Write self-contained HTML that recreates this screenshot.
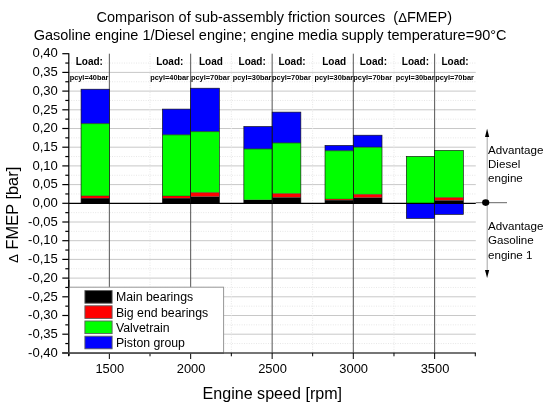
<!DOCTYPE html><html><head><meta charset="utf-8"><title>Comparison of sub-assembly friction sources</title>
<style>html,body{margin:0;padding:0;background:#fff}svg{display:block}text{font-family:"Liberation Sans",Arial,sans-serif;fill:#000}</style></head><body>
<svg width="550" height="410" viewBox="0 0 550 410">
<rect width="550" height="410" fill="#fff"/>
<g stroke="#c8c8c8" stroke-width="1" fill="none">
<line x1="68.8" x2="475.8" y1="334.20" y2="334.20"/>
<line x1="68.8" x2="475.8" y1="315.50" y2="315.50"/>
<line x1="68.8" x2="475.8" y1="296.80" y2="296.80"/>
<line x1="68.8" x2="475.8" y1="278.10" y2="278.10"/>
<line x1="68.8" x2="475.8" y1="259.40" y2="259.40"/>
<line x1="68.8" x2="475.8" y1="240.70" y2="240.70"/>
<line x1="68.8" x2="475.8" y1="222.00" y2="222.00"/>
<line x1="68.8" x2="475.8" y1="184.60" y2="184.60"/>
<line x1="68.8" x2="475.8" y1="165.90" y2="165.90"/>
<line x1="68.8" x2="475.8" y1="147.20" y2="147.20"/>
<line x1="68.8" x2="475.8" y1="128.50" y2="128.50"/>
<line x1="68.8" x2="475.8" y1="109.80" y2="109.80"/>
<line x1="68.8" x2="475.8" y1="91.10" y2="91.10"/>
<line x1="68.8" x2="475.8" y1="72.40" y2="72.40"/>
</g>
<g stroke="#e6e6e6" stroke-width="1" stroke-dasharray="1 1.4" fill="none">
<line x1="68.8" x2="475.8" y1="343.55" y2="343.55"/>
<line x1="68.8" x2="475.8" y1="324.85" y2="324.85"/>
<line x1="68.8" x2="475.8" y1="306.15" y2="306.15"/>
<line x1="68.8" x2="475.8" y1="287.45" y2="287.45"/>
<line x1="68.8" x2="475.8" y1="268.75" y2="268.75"/>
<line x1="68.8" x2="475.8" y1="250.05" y2="250.05"/>
<line x1="68.8" x2="475.8" y1="231.35" y2="231.35"/>
<line x1="68.8" x2="475.8" y1="212.65" y2="212.65"/>
<line x1="68.8" x2="475.8" y1="193.95" y2="193.95"/>
<line x1="68.8" x2="475.8" y1="175.25" y2="175.25"/>
<line x1="68.8" x2="475.8" y1="156.55" y2="156.55"/>
<line x1="68.8" x2="475.8" y1="137.85" y2="137.85"/>
<line x1="68.8" x2="475.8" y1="119.15" y2="119.15"/>
<line x1="68.8" x2="475.8" y1="100.45" y2="100.45"/>
<line x1="68.8" x2="475.8" y1="81.75" y2="81.75"/>
<line x1="68.8" x2="475.8" y1="63.05" y2="63.05"/>
<line x1="150.01" x2="150.01" y1="53.7" y2="352.9"/>
<line x1="231.33" x2="231.33" y1="53.7" y2="352.9"/>
<line x1="312.65" x2="312.65" y1="53.7" y2="352.9"/>
<line x1="393.97" x2="393.97" y1="53.7" y2="352.9"/>
</g>
<g stroke="#555" stroke-width="1">
<line x1="109.35" x2="109.35" y1="53.7" y2="352.9"/>
<line x1="190.67" x2="190.67" y1="53.7" y2="352.9"/>
<line x1="272.15" x2="272.15" y1="53.7" y2="352.9"/>
<line x1="353.31" x2="353.31" y1="53.7" y2="352.9"/>
<line x1="434.63" x2="434.63" y1="53.7" y2="352.9"/>
</g>
<g>
<rect x="81.05" y="89.20" width="28.3" height="34.40" fill="#0000ff"/>
<rect x="81.05" y="123.60" width="28.3" height="72.30" fill="#00ff00"/>
<rect x="81.05" y="195.90" width="28.3" height="2.30" fill="#ff0000"/>
<rect x="81.05" y="198.20" width="28.3" height="5.10" fill="#000000"/>
<rect x="162.37" y="109.10" width="28.3" height="25.70" fill="#0000ff"/>
<rect x="162.37" y="134.80" width="28.3" height="61.20" fill="#00ff00"/>
<rect x="162.37" y="196.00" width="28.3" height="2.20" fill="#ff0000"/>
<rect x="162.37" y="198.20" width="28.3" height="5.10" fill="#000000"/>
<rect x="190.67" y="88.20" width="28.7" height="43.40" fill="#0000ff"/>
<rect x="190.67" y="131.60" width="28.7" height="61.00" fill="#00ff00"/>
<rect x="190.67" y="192.60" width="28.7" height="4.00" fill="#ff0000"/>
<rect x="190.67" y="196.60" width="28.7" height="6.70" fill="#000000"/>
<rect x="243.85" y="126.50" width="28.3" height="22.40" fill="#0000ff"/>
<rect x="243.85" y="148.90" width="28.3" height="50.90" fill="#00ff00"/>
<rect x="243.85" y="199.80" width="28.3" height="0.00" fill="#ff0000"/>
<rect x="243.85" y="199.80" width="28.3" height="3.50" fill="#000000"/>
<rect x="272.15" y="112.10" width="28.7" height="30.80" fill="#0000ff"/>
<rect x="272.15" y="142.90" width="28.7" height="50.70" fill="#00ff00"/>
<rect x="272.15" y="193.60" width="28.7" height="3.80" fill="#ff0000"/>
<rect x="272.15" y="197.40" width="28.7" height="5.90" fill="#000000"/>
<rect x="325.01" y="145.40" width="28.3" height="5.30" fill="#0000ff"/>
<rect x="325.01" y="150.70" width="28.3" height="48.40" fill="#00ff00"/>
<rect x="325.01" y="199.10" width="28.3" height="1.10" fill="#ff0000"/>
<rect x="325.01" y="200.20" width="28.3" height="3.10" fill="#000000"/>
<rect x="353.31" y="135.20" width="28.7" height="12.00" fill="#0000ff"/>
<rect x="353.31" y="147.20" width="28.7" height="47.20" fill="#00ff00"/>
<rect x="353.31" y="194.40" width="28.7" height="3.20" fill="#ff0000"/>
<rect x="353.31" y="197.60" width="28.7" height="5.70" fill="#000000"/>
<rect x="406.33" y="203.30" width="28.3" height="15.10" fill="#0000ff"/>
<rect x="406.33" y="156.40" width="28.3" height="46.60" fill="#00ff00"/>
<rect x="406.33" y="203.00" width="28.3" height="0.00" fill="#ff0000"/>
<rect x="406.33" y="203.00" width="28.3" height="0.30" fill="#000000"/>
<rect x="434.63" y="203.30" width="28.7" height="11.10" fill="#0000ff"/>
<rect x="434.63" y="150.40" width="28.7" height="47.20" fill="#00ff00"/>
<rect x="434.63" y="197.60" width="28.7" height="2.80" fill="#ff0000"/>
<rect x="434.63" y="200.40" width="28.7" height="2.90" fill="#000000"/>
</g>
<g stroke="#111" stroke-width="0.65">
<line x1="81.05" x2="109.35" y1="123.60" y2="123.60" stroke-width="0.6"/>
<line x1="81.05" x2="109.35" y1="195.90" y2="195.90" stroke-width="0.35"/>
<rect x="81.05" y="89.20" width="28.3" height="114.10" fill="none"/>
<line x1="162.37" x2="190.67" y1="134.80" y2="134.80" stroke-width="0.6"/>
<line x1="162.37" x2="190.67" y1="196.00" y2="196.00" stroke-width="0.35"/>
<rect x="162.37" y="109.10" width="28.3" height="94.20" fill="none"/>
<line x1="190.67" x2="219.37" y1="131.60" y2="131.60" stroke-width="0.6"/>
<line x1="190.67" x2="219.37" y1="192.60" y2="192.60" stroke-width="0.35"/>
<rect x="190.67" y="88.20" width="28.7" height="115.10" fill="none"/>
<line x1="243.85" x2="272.15" y1="148.90" y2="148.90" stroke-width="0.6"/>
<rect x="243.85" y="126.50" width="28.3" height="76.80" fill="none"/>
<line x1="272.15" x2="300.85" y1="142.90" y2="142.90" stroke-width="0.6"/>
<line x1="272.15" x2="300.85" y1="193.60" y2="193.60" stroke-width="0.35"/>
<rect x="272.15" y="112.10" width="28.7" height="91.20" fill="none"/>
<line x1="325.01" x2="353.31" y1="150.70" y2="150.70" stroke-width="0.6"/>
<line x1="325.01" x2="353.31" y1="199.10" y2="199.10" stroke-width="0.35"/>
<rect x="325.01" y="145.40" width="28.3" height="57.90" fill="none"/>
<line x1="353.31" x2="382.01" y1="147.20" y2="147.20" stroke-width="0.6"/>
<line x1="353.31" x2="382.01" y1="194.40" y2="194.40" stroke-width="0.35"/>
<rect x="353.31" y="135.20" width="28.7" height="68.10" fill="none"/>
<rect x="406.33" y="156.40" width="28.3" height="62.00" fill="none"/>
<line x1="434.63" x2="463.33" y1="197.60" y2="197.60" stroke-width="0.35"/>
<rect x="434.63" y="150.40" width="28.7" height="64.00" fill="none"/>
</g>
<line x1="68.8" x2="475.8" y1="203.3" y2="203.3" stroke="#000" stroke-width="1.3"/>
<line x1="475.8" x2="507" y1="202.7" y2="202.7" stroke="#666" stroke-width="1"/>
<line x1="487.2" x2="487.2" y1="134" y2="272" stroke="#a6a6a6" stroke-width="1"/>
<polygon points="487.1,128.8 485.0,136.9 489.2,136.9" fill="#000"/>
<polygon points="487.1,278.0 485.0,270.0 489.2,270.0" fill="#000"/>
<ellipse cx="485.7" cy="202.6" rx="3.6" ry="3.3" fill="#000"/>
<g stroke="#000" stroke-width="1.2" fill="none">
<line x1="68.8" x2="68.8" y1="53.2" y2="355.8"/>
<line x1="62.4" x2="475.8" y1="352.9" y2="352.9" stroke="#484848" stroke-width="1.5"/>
<line x1="62.3" x2="68.8" y1="352.90" y2="352.90"/>
<line x1="62.3" x2="68.8" y1="334.20" y2="334.20"/>
<line x1="62.3" x2="68.8" y1="315.50" y2="315.50"/>
<line x1="62.3" x2="68.8" y1="296.80" y2="296.80"/>
<line x1="62.3" x2="68.8" y1="278.10" y2="278.10"/>
<line x1="62.3" x2="68.8" y1="259.40" y2="259.40"/>
<line x1="62.3" x2="68.8" y1="240.70" y2="240.70"/>
<line x1="62.3" x2="68.8" y1="222.00" y2="222.00"/>
<line x1="62.3" x2="68.8" y1="203.30" y2="203.30"/>
<line x1="62.3" x2="68.8" y1="184.60" y2="184.60"/>
<line x1="62.3" x2="68.8" y1="165.90" y2="165.90"/>
<line x1="62.3" x2="68.8" y1="147.20" y2="147.20"/>
<line x1="62.3" x2="68.8" y1="128.50" y2="128.50"/>
<line x1="62.3" x2="68.8" y1="109.80" y2="109.80"/>
<line x1="62.3" x2="68.8" y1="91.10" y2="91.10"/>
<line x1="62.3" x2="68.8" y1="72.40" y2="72.40"/>
<line x1="62.3" x2="68.8" y1="53.70" y2="53.70"/>
<line x1="65.3" x2="68.8" y1="343.55" y2="343.55"/>
<line x1="65.3" x2="68.8" y1="324.85" y2="324.85"/>
<line x1="65.3" x2="68.8" y1="306.15" y2="306.15"/>
<line x1="65.3" x2="68.8" y1="287.45" y2="287.45"/>
<line x1="65.3" x2="68.8" y1="268.75" y2="268.75"/>
<line x1="65.3" x2="68.8" y1="250.05" y2="250.05"/>
<line x1="65.3" x2="68.8" y1="231.35" y2="231.35"/>
<line x1="65.3" x2="68.8" y1="212.65" y2="212.65"/>
<line x1="65.3" x2="68.8" y1="193.95" y2="193.95"/>
<line x1="65.3" x2="68.8" y1="175.25" y2="175.25"/>
<line x1="65.3" x2="68.8" y1="156.55" y2="156.55"/>
<line x1="65.3" x2="68.8" y1="137.85" y2="137.85"/>
<line x1="65.3" x2="68.8" y1="119.15" y2="119.15"/>
<line x1="65.3" x2="68.8" y1="100.45" y2="100.45"/>
<line x1="65.3" x2="68.8" y1="81.75" y2="81.75"/>
<line x1="65.3" x2="68.8" y1="63.05" y2="63.05"/>
<line x1="109.35" x2="109.35" y1="352.9" y2="359.0" stroke-width="1"/>
<line x1="190.67" x2="190.67" y1="352.9" y2="359.0" stroke-width="1"/>
<line x1="272.15" x2="272.15" y1="352.9" y2="359.0" stroke-width="1"/>
<line x1="353.31" x2="353.31" y1="352.9" y2="359.0" stroke-width="1"/>
<line x1="434.63" x2="434.63" y1="352.9" y2="359.0" stroke-width="1"/>
<line x1="68.69" x2="68.69" y1="352.9" y2="356.29999999999995" stroke-width="1"/>
<line x1="150.01" x2="150.01" y1="352.9" y2="356.29999999999995" stroke-width="1"/>
<line x1="231.33" x2="231.33" y1="352.9" y2="356.29999999999995" stroke-width="1"/>
<line x1="312.65" x2="312.65" y1="352.9" y2="356.29999999999995" stroke-width="1"/>
<line x1="393.97" x2="393.97" y1="352.9" y2="356.29999999999995" stroke-width="1"/>
<line x1="475.29" x2="475.29" y1="352.9" y2="356.29999999999995" stroke-width="1"/>
</g>
<rect x="68.8" y="287.2" width="154.8" height="65.69999999999999" fill="#fff" stroke="#969696" stroke-width="1"/>
<line x1="68.8" x2="68.8" y1="280" y2="355.8" stroke="#000" stroke-width="1.2"/>
<line x1="62.4" x2="224" y1="352.9" y2="352.9" stroke="#484848" stroke-width="1.5"/>
<rect x="84.9" y="290.60" width="27.2" height="12.6" fill="#000000" stroke="#5c5c5c" stroke-width="0.9"/>
<text x="115.9" y="301.40" font-size="12.3">Main bearings</text>
<rect x="84.9" y="305.80" width="27.2" height="12.6" fill="#ff0000" stroke="#5c5c5c" stroke-width="0.9"/>
<text x="115.9" y="316.60" font-size="12.3">Big end bearings</text>
<rect x="84.9" y="321.00" width="27.2" height="12.6" fill="#00ff00" stroke="#5c5c5c" stroke-width="0.9"/>
<text x="115.9" y="331.80" font-size="12.3">Valvetrain</text>
<rect x="84.9" y="336.20" width="27.2" height="12.6" fill="#0000ff" stroke="#5c5c5c" stroke-width="0.9"/>
<text x="115.9" y="347.00" font-size="12.3">Piston group</text>
<text x="57.9" y="356.60" font-size="13.1" text-anchor="end">-0,40</text>
<text x="57.9" y="337.90" font-size="13.1" text-anchor="end">-0,35</text>
<text x="57.9" y="319.20" font-size="13.1" text-anchor="end">-0,30</text>
<text x="57.9" y="300.50" font-size="13.1" text-anchor="end">-0,25</text>
<text x="57.9" y="281.80" font-size="13.1" text-anchor="end">-0,20</text>
<text x="57.9" y="263.10" font-size="13.1" text-anchor="end">-0,15</text>
<text x="57.9" y="244.40" font-size="13.1" text-anchor="end">-0,10</text>
<text x="57.9" y="225.70" font-size="13.1" text-anchor="end">-0,05</text>
<text x="57.9" y="207.00" font-size="13.1" text-anchor="end">0,00</text>
<text x="57.9" y="188.30" font-size="13.1" text-anchor="end">0,05</text>
<text x="57.9" y="169.60" font-size="13.1" text-anchor="end">0,10</text>
<text x="57.9" y="150.90" font-size="13.1" text-anchor="end">0,15</text>
<text x="57.9" y="132.20" font-size="13.1" text-anchor="end">0,20</text>
<text x="57.9" y="113.50" font-size="13.1" text-anchor="end">0,25</text>
<text x="57.9" y="94.80" font-size="13.1" text-anchor="end">0,30</text>
<text x="57.9" y="76.10" font-size="13.1" text-anchor="end">0,35</text>
<text x="57.9" y="57.40" font-size="13.1" text-anchor="end">0,40</text>
<text x="109.75" y="373.4" font-size="12.9" text-anchor="middle">1500</text>
<text x="191.07" y="373.4" font-size="12.9" text-anchor="middle">2000</text>
<text x="272.54999999999995" y="373.4" font-size="12.9" text-anchor="middle">2500</text>
<text x="353.71" y="373.4" font-size="12.9" text-anchor="middle">3000</text>
<text x="435.03" y="373.4" font-size="12.9" text-anchor="middle">3500</text>
<text x="96.6" y="22.4" font-size="14.47" xml:space="preserve">Comparison of sub-assembly friction sources  (<tspan font-size="13.2">&#916;</tspan>FMEP)</text>
<text x="270.1" y="39.6" font-size="14.5" text-anchor="middle">Gasoline engine 1/Diesel engine; engine media supply temperature=90&#176;C</text>
<text x="272.3" y="398.7" font-size="16.1" text-anchor="middle">Engine speed [rpm]</text>
<text transform="translate(17.7 263.1) rotate(-90)" font-size="16.45"><tspan font-size="13.4">&#916;</tspan><tspan dx="4.6">FMEP [bar]</tspan></text>
<text x="89.30" y="64.9" font-size="10" font-weight="bold" text-anchor="middle">Load:</text>
<text x="89.05" y="79.7" font-size="7.4" font-weight="bold" text-anchor="middle">pcyl=40bar</text>
<text x="169.76" y="64.9" font-size="10" font-weight="bold" text-anchor="middle">Load:</text>
<text x="169.60" y="79.7" font-size="7.4" font-weight="bold" text-anchor="middle">pcyl=40bar</text>
<text x="210.90" y="64.9" font-size="10" font-weight="bold" text-anchor="middle">Load</text>
<text x="210.40" y="79.7" font-size="7.4" font-weight="bold" text-anchor="middle">pcyl=70bar</text>
<text x="252.16" y="64.9" font-size="10" font-weight="bold" text-anchor="middle">Load:</text>
<text x="252.10" y="79.7" font-size="7.4" font-weight="bold" text-anchor="middle">pcyl=30bar</text>
<text x="292.00" y="64.9" font-size="10" font-weight="bold" text-anchor="middle">Load:</text>
<text x="291.44" y="79.7" font-size="7.4" font-weight="bold" text-anchor="middle">pcyl=70bar</text>
<text x="334.16" y="64.9" font-size="10" font-weight="bold" text-anchor="middle">Load</text>
<text x="333.84" y="79.7" font-size="7.4" font-weight="bold" text-anchor="middle">pcyl=30bar</text>
<text x="373.36" y="64.9" font-size="10" font-weight="bold" text-anchor="middle">Load:</text>
<text x="372.72" y="79.7" font-size="7.4" font-weight="bold" text-anchor="middle">pcyl=70bar</text>
<text x="415.44" y="64.9" font-size="10" font-weight="bold" text-anchor="middle">Load:</text>
<text x="415.20" y="79.7" font-size="7.4" font-weight="bold" text-anchor="middle">pcyl=30bar</text>
<text x="455.04" y="64.9" font-size="10" font-weight="bold" text-anchor="middle">Load:</text>
<text x="454.56" y="79.7" font-size="7.4" font-weight="bold" text-anchor="middle">pcyl=70bar</text>
<text x="488.0" y="153.60" font-size="11.6">Advantage</text>
<text x="488.0" y="168.00" font-size="11.6">Diesel</text>
<text x="488.0" y="182.40" font-size="11.6">engine</text>
<text x="488.0" y="230.00" font-size="11.6">Advantage</text>
<text x="488.0" y="244.30" font-size="11.6">Gasoline</text>
<text x="488.0" y="258.60" font-size="11.6">engine 1</text>
</svg></body></html>
